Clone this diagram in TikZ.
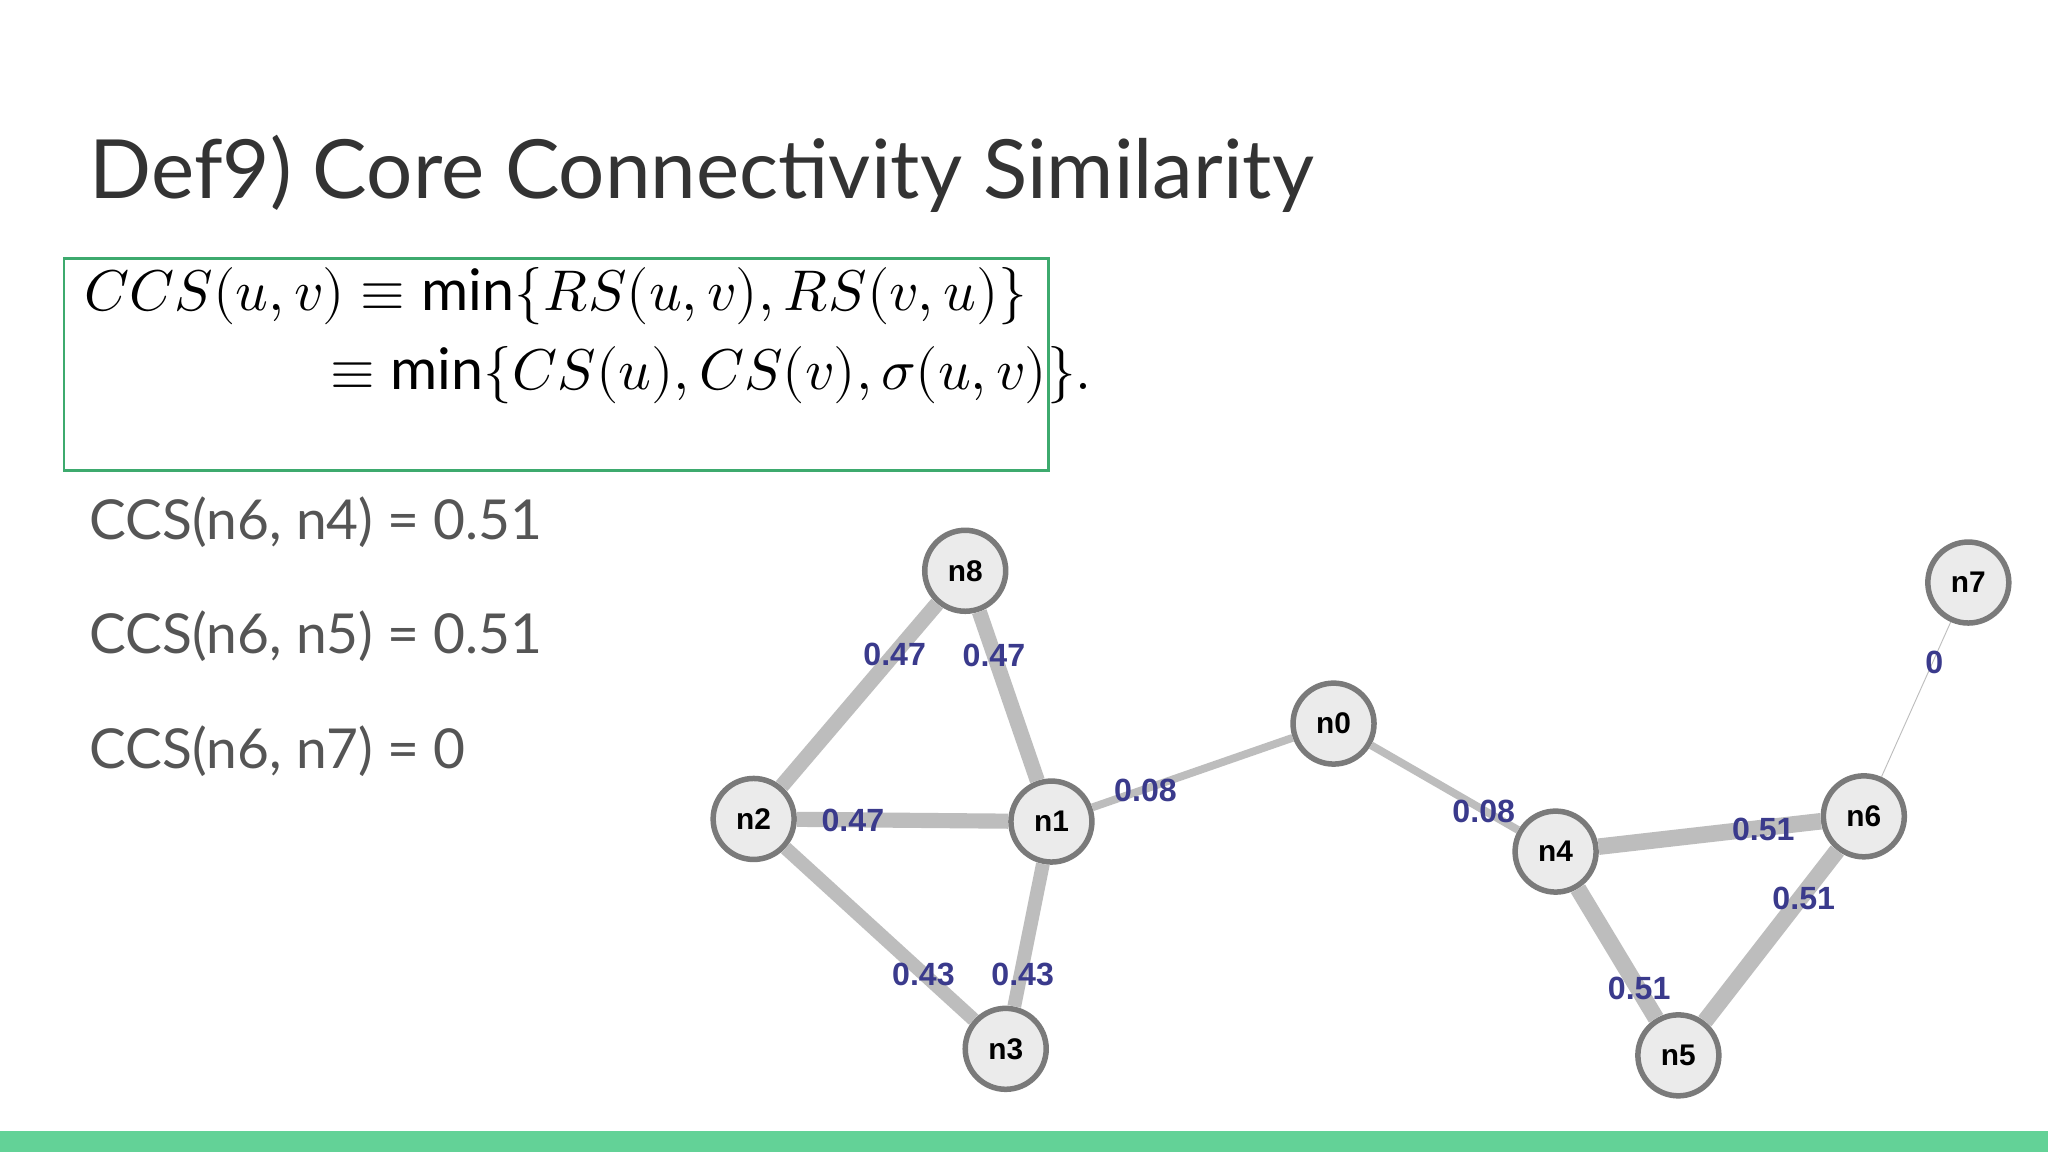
\documentclass[tikz,border=0pt]{standalone}
\usepackage{fontspec}
\setmainfont{Lato}
\newfontfamily\gfont{Liberation Sans}
\usepackage{unicode-math}
\setmathfont{Latin Modern Math}
\definecolor{titlegray}{HTML}{333333}
\definecolor{txtgray}{HTML}{555555}
\definecolor{boxgreen}{HTML}{3DAA6E}
\definecolor{bargreen}{HTML}{63D297}
\definecolor{edgegray}{HTML}{BDBDBD}
\definecolor{nodefill}{HTML}{EBEBEB}
\definecolor{nodeline}{HTML}{7A7A7A}
\definecolor{labnavy}{HTML}{3A3A8C}
\tikzset{
  gnode/.style={circle,draw=nodeline,line width=1.2pt,fill=nodefill,minimum size=6.2mm,inner sep=0pt,font=\gfont\bfseries\fontsize{6.5}{7}\selectfont},
  gedge/.style={draw=edgegray},
  elab/.style={font=\gfont\bfseries\fontsize{7}{8}\selectfont,text=labnavy,inner sep=0pt},
  ccs/.style={anchor=base west,font=\fontsize{12}{14}\selectfont,text=txtgray,inner sep=0pt}
}
\begin{document}
\begin{tikzpicture}[x=0.1mm,y=-0.1mm]
\useasboundingbox[fill=white] (0,0) rectangle (1568,882);
\fill[bargreen] (0,866) rectangle (1568,882);
\node[anchor=base west,inner sep=0pt,text=titlegray,font=\fontsize{17.8}{20}\selectfont] (title) at (68,152) {Def9) Core Connectivity Similarity};
\draw[boxgreen,line width=0.6pt] (49,198) rectangle (803,360);
\node[anchor=base west,inner sep=0pt,font=\fontsize{12.5}{14}\selectfont] (f1) at (64,238) {$CCS(u,v)\equiv\min\{RS(u,v),RS(v,u)\}$};
\node[anchor=base west,inner sep=0pt,font=\fontsize{12.5}{14}\selectfont] (f2) at (252,298) {$\equiv\min\{CS(u),CS(v),\sigma(u,v)\}.$};
\node[ccs] (c1) at (68,413) {CCS(n6, n4) = 0.51};
\node[ccs] (c2) at (68,500) {CCS(n6, n5) = 0.51};
\node[ccs] (c3) at (68,588) {CCS(n6, n7) = 0};
% nodes
\coordinate (p8) at (739,437);
\node[gnode] (n8) at (739,437) {n8};
\node[gnode] (n2) at (577,627) {n2};
\node[gnode] (n1) at (805,629) {n1};
\node[gnode] (n3) at (770,803) {n3};
\node[gnode] (n0) at (1021,554) {n0};
\node[gnode] (n4) at (1191,652) {n4};
\node[gnode] (n6) at (1427,625) {n6};
\node[gnode] (n5) at (1285,808) {n5};
\node[gnode] (n7) at (1507,446) {n7};
\begin{scope}[on background layer/.style={}]
\end{scope}
% edges drawn, then nodes redrawn on top
\draw[gedge,line width=3.3pt] (n2) -- (n8);
\draw[gedge,line width=3.3pt] (n8) -- (n1);
\draw[gedge,line width=3.3pt] (n2) -- (n1);
\draw[gedge,line width=3.0pt] (n2) -- (n3);
\draw[gedge,line width=3.0pt] (n1) -- (n3);
\draw[gedge,line width=1.7pt] (n1) -- (n0);
\draw[gedge,line width=1.7pt] (n0) -- (n4);
\draw[gedge,line width=3.6pt] (n4) -- (n6);
\draw[gedge,line width=3.6pt] (n6) -- (n5);
\draw[gedge,line width=3.6pt] (n4) -- (n5);
\draw[gedge,line width=0.2pt] (n7) -- (n6);
\node[elab] (l1) at (685,501) {0.47};
\node[elab] (l2) at (761,502) {0.47};
\node[elab] (l3) at (653,628) {0.47};
\node[elab] (l4) at (707,746) {0.43};
\node[elab] (l5) at (783,746) {0.43};
\node[elab] (l6) at (877,605) {0.08};
\node[elab] (l7) at (1136,621) {0.08};
\node[elab] (l8) at (1350,635) {0.51};
\node[elab] (l9) at (1381,688) {0.51};
\node[elab] (l10) at (1255,757) {0.51};
\node[elab] (l11) at (1481,507) {0};
\end{tikzpicture}
\end{document}
